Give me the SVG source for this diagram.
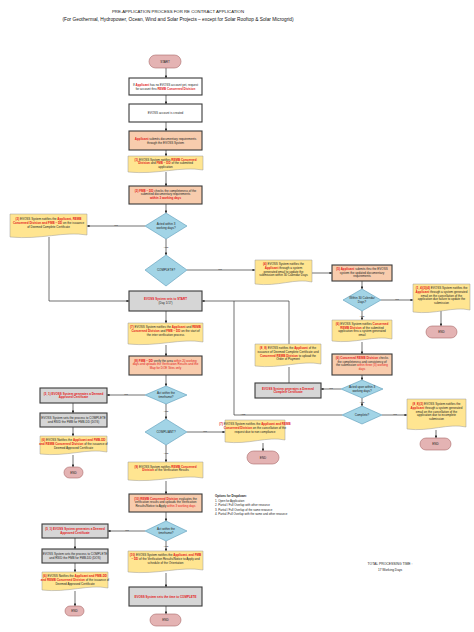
<svg xmlns="http://www.w3.org/2000/svg" width="474" height="632" viewBox="0 0 474 632">
<defs>
<style>
.peach{fill:#f8ccad;stroke:#3a3a3a;stroke-width:1.1}
.white{fill:#fff;stroke:#3a3a3a;stroke-width:1.1}
.grey{fill:#d6d6d6;stroke:#3a3a3a;stroke-width:1.1}
.doc{fill:#ffe591;stroke:#9a9a9a;stroke-width:0.5}
.dia{fill:#a2d4e6;stroke:#5b9bb9;stroke-width:0.6}
.term{fill:#e4b3b3;stroke:#a96a6a;stroke-width:0.6}
.t{font-family:"Liberation Sans",Arial,sans-serif;font-size:3px;fill:#222;text-anchor:middle}
.r{fill:#e4201b;font-weight:bold}
.lbl{font-family:"Liberation Sans",Arial,sans-serif;font-size:2.4px;fill:#333;text-anchor:middle}
.title{font-family:"Liberation Sans",Arial,sans-serif;fill:#111;text-anchor:middle}
.conn{stroke:#333;stroke-width:0.7;fill:none}
</style>
<marker id="ah" viewBox="0 0 6 6" refX="5.5" refY="3" markerWidth="4" markerHeight="4" orient="auto"><path d="M0,0 L6,3 L0,6 Z" fill="#333"/></marker>
</defs>
<rect width="474" height="632" fill="#fff"/>

<text class="title" x="178" y="13" font-size="4.3">PRE-APPLICATION PROCESS FOR RE CONTRACT APPLICATION</text>
<text class="title" x="178" y="21" font-size="4.8">(For Geothermal, Hydropower, Ocean, Wind and Solar Projects – except for Solar Rooftop &amp; Solar Microgrid)</text>

<g id="connectors">
<path class="conn" d="M166,68 V78" marker-end="url(#ah)"/>
<path class="conn" d="M166,95 V104" marker-end="url(#ah)"/>
<path class="conn" d="M166,122 V131" marker-end="url(#ah)"/>
<path class="conn" d="M166,150 V156" marker-end="url(#ah)"/>
<path class="conn" d="M166,172 V186" marker-end="url(#ah)"/>
<path class="conn" d="M166,204 V213" marker-end="url(#ah)"/>
<path class="conn" d="M145,226 H87" marker-end="url(#ah)"/>
<path class="conn" d="M166,239 V255" marker-end="url(#ah)"/>
<path class="conn" d="M187,270 H255" marker-end="url(#ah)"/>
<path class="conn" d="M312,273 H332" marker-end="url(#ah)"/>
<path class="conn" d="M362,281 V289" marker-end="url(#ah)"/>
<path class="conn" d="M381,300 H413" marker-end="url(#ah)"/>
<path class="conn" d="M441,311 V326" marker-end="url(#ah)"/>
<path class="conn" d="M362,311 V320" marker-end="url(#ah)"/>
<path class="conn" d="M362,342 V354" marker-end="url(#ah)"/>
<path class="conn" d="M362,375 V380" marker-end="url(#ah)"/>
<path class="conn" d="M341,389 H321" marker-end="url(#ah)"/>
<path class="conn" d="M362,398 V406" marker-end="url(#ah)"/>
<path class="conn" d="M382,415 H407" marker-end="url(#ah)"/>
<path class="conn" d="M436,430 V438" marker-end="url(#ah)"/>
<path class="conn" d="M342,415 H234 V301"/>
<path class="conn" d="M289,383 V367"/>
<path class="conn" d="M289,344 V301 H202" marker-end="url(#ah)"/>
<path class="conn" d="M49,237 V301 H129" marker-end="url(#ah)"/>
<path class="conn" d="M166,311 V323" marker-end="url(#ah)"/>
<path class="conn" d="M166,345 V356" marker-end="url(#ah)"/>
<path class="conn" d="M166,375 V386" marker-end="url(#ah)"/>
<path class="conn" d="M145,395 H107" marker-end="url(#ah)"/>
<path class="conn" d="M73,403 V413" marker-end="url(#ah)"/>
<path class="conn" d="M73,427 V436" marker-end="url(#ah)"/>
<path class="conn" d="M73,455 V467" marker-end="url(#ah)"/>
<path class="conn" d="M166,404 V419" marker-end="url(#ah)"/>
<path class="conn" d="M187,432 H225" marker-end="url(#ah)"/>
<path class="conn" d="M263,443 V451" marker-end="url(#ah)"/>
<path class="conn" d="M166,445 V462" marker-end="url(#ah)"/>
<path class="conn" d="M166,481 V494" marker-end="url(#ah)"/>
<path class="conn" d="M166,512 V521" marker-end="url(#ah)"/>
<path class="conn" d="M145,531 H108" marker-end="url(#ah)"/>
<path class="conn" d="M75,538 V549" marker-end="url(#ah)"/>
<path class="conn" d="M75,563 V572" marker-end="url(#ah)"/>
<path class="conn" d="M75,591 V606" marker-end="url(#ah)"/>
<path class="conn" d="M166,541 V551" marker-end="url(#ah)"/>
<path class="conn" d="M166,573 V587" marker-end="url(#ah)"/>
<path class="conn" d="M166,606 V614" marker-end="url(#ah)"/>
<text class="lbl" x="116" y="225.5">NO</text>
<text class="lbl" x="166" y="248">YES</text>
<text class="lbl" x="220" y="269.5">NO</text>
<text class="lbl" x="397" y="299.5">NO</text>
<text class="lbl" x="362" y="316.5">YES</text>
<text class="lbl" x="331" y="388.5">NO</text>
<text class="lbl" x="362" y="403">YES</text>
<text class="lbl" x="395" y="414.5">NO</text>
<text class="lbl" x="243" y="414.5">YES</text>
<text class="lbl" x="126" y="394.5">NO</text>
<text class="lbl" x="166" y="412">YES</text>
<text class="lbl" x="205" y="431.5">NO</text>
<text class="lbl" x="166" y="454">YES</text>
<text class="lbl" x="127" y="530.5">NO</text>
<text class="lbl" x="166" y="547">YES</text>
</g>

<g id="start"><rect class="term" x="149" y="55" width="32" height="13" rx="6.5"/><text class="t" x="165" y="62.6">START</text></g>

<g id="n1"><rect class="white" x="129" y="78" width="73" height="17"/>
<text class="t" x="165.5" y="85.5"><tspan>If </tspan><tspan class="r">Applicant</tspan><tspan> has no EVOSS account yet, request</tspan></text>
<text class="t" x="165.5" y="89.5"><tspan>for account thru </tspan><tspan class="r">REMB Concerned Division</tspan></text></g>

<g id="n2"><rect class="white" x="129" y="104" width="73" height="18"/><text class="t" x="165.5" y="114">EVOSS account is created</text></g>

<g id="n3"><rect class="peach" x="129" y="131" width="73" height="19"/>
<text class="t" x="165.5" y="139.5"><tspan class="r">Applicant</tspan><tspan> submits documentary requirements</tspan></text>
<text class="t" x="165.5" y="143.5">through the EVOSS System</text></g>

<g id="n4"><path class="doc" d="M128,156 H203 V170 C180.5,166 158,175 128,172 Z"/>
<text class="t" x="165.5" y="160.5"><tspan class="r">(1)</tspan><tspan> EVOSS System notifies </tspan><tspan class="r">REMB Concerned</tspan></text>
<text class="t" x="165.5" y="164.3"><tspan class="r">Division</tspan><tspan> and </tspan><tspan class="r">FMB – DD</tspan><tspan> of the submitted</tspan></text>
<text class="t" x="165.5" y="168.1">application</text></g>

<g id="n5"><rect class="peach" x="129" y="186" width="73" height="18"/>
<text class="t" x="165.5" y="191.5"><tspan class="r">(2) FMB – DD</tspan><tspan> checks the completeness of the</tspan></text>
<text class="t" x="165.5" y="195.3">submitted documentary requirements</text>
<text class="t" x="165.5" y="199.1"><tspan class="r" font-weight="normal">within 3 working days</tspan></text></g>

<g id="d1"><path class="dia" d="M166,213 L187,226 L166,239 L145,226 Z"/>
<text class="t" x="166" y="225">Acted within 3</text><text class="t" x="166" y="229">working days?</text></g>

<g id="n6"><path class="doc" d="M10,214 H87 V235 C64,231 41,240 10,237 Z"/>
<text class="t" x="48.5" y="219.5"><tspan class="r">(3)</tspan><tspan> EVOSS System notifies the </tspan><tspan class="r">Applicant, REMB</tspan></text>
<text class="t" x="48.5" y="223.5"><tspan class="r">Concerned Division and FMB – DD</tspan><tspan> on the issuance</tspan></text>
<text class="t" x="48.5" y="227.5">of Deemed Complete Certificate</text></g>

<g id="d2"><path class="dia" d="M166,255 L187,270 L166,286 L145,270 Z"/><text class="t" x="166" y="271.2">COMPLETE?</text></g>

<g id="n7"><path class="doc" d="M255,260 H312 V282 C295,278 278,287 255,284 Z"/>
<text class="t" x="283.5" y="265"><tspan class="r">(4)</tspan><tspan> EVOSS System notifies the</tspan></text>
<text class="t" x="283.5" y="268.8"><tspan class="r">Applicant</tspan><tspan> through a system</tspan></text>
<text class="t" x="283.5" y="272.6">generated email  to update the</text>
<text class="t" x="283.5" y="276.4">submission within 30 Calendar Days</text></g>

<g id="n8"><rect class="peach" x="332" y="265" width="60" height="16"/>
<text class="t" x="362" y="269.8"><tspan class="r">(5) Applicant</tspan><tspan> submits thru the  EVOSS</tspan></text>
<text class="t" x="362" y="273.6">system the updated documentary</text>
<text class="t" x="362" y="277.4">requirements</text></g>

<g id="d3"><path class="dia" d="M362,289 L381,300 L362,311 L343,300 Z"/>
<text class="t" x="362" y="299">Within 30 Calendar</text><text class="t" x="362" y="303">Days?</text></g>

<g id="n9"><path class="doc" d="M413,284 H470 V310 C453,306 436,315 413,312 Z"/>
<text class="t" x="441.5" y="289"><tspan class="r">(1_4)(3)(4)</tspan><tspan> EVOSS System notifies the</tspan></text>
<text class="t" x="441.5" y="292.8"><tspan class="r">Applicant</tspan><tspan> through a system generated</tspan></text>
<text class="t" x="441.5" y="296.6">email on the cancellation of the</text>
<text class="t" x="441.5" y="300.4">application due failure to update the</text>
<text class="t" x="441.5" y="304.2">submission</text></g>

<g id="end1"><rect class="term" x="426" y="326" width="31" height="12" rx="6"/><text class="t" x="441.5" y="333">END</text></g>

<g id="n10"><path class="doc" d="M332,320 H392 V339 C374,335 356,344 332,341 Z"/>
<text class="t" x="362" y="324.8"><tspan class="r">(6)</tspan><tspan> EVOSS System notifies </tspan><tspan class="r">Concerned</tspan></text>
<text class="t" x="362" y="328.6"><tspan class="r">REMB Division</tspan><tspan> of the submitted</tspan></text>
<text class="t" x="362" y="332.4">application thru a system generated</text>
<text class="t" x="362" y="336.2">email</text></g>

<g id="n11"><rect class="peach" x="332" y="354" width="60" height="21"/>
<text class="t" x="362" y="358.8"><tspan class="r">(6) Concerned REMB Division</tspan><tspan> checks</tspan></text>
<text class="t" x="362" y="362.6">the completeness and consistency of</text>
<text class="t" x="362" y="366.4"><tspan>the submission </tspan><tspan fill="#e4201b">within three (3) working</tspan></text>
<text class="t" x="362" y="370.2"><tspan fill="#e4201b">days</tspan></text></g>

<g id="d4"><path class="dia" d="M362,380 L383,389 L362,398 L341,389 Z"/>
<text class="t" x="362" y="388.3">Acted upon within 3</text><text class="t" x="362" y="392">working days?</text></g>

<g id="d5"><path class="dia" d="M362,406 L382,415 L362,424 L342,415 Z"/><text class="t" x="362" y="416.1">Complete?</text></g>

<g id="n12"><path class="doc" d="M407,399 H466 V427 C448,423 430,432 407,429 Z"/>
<text class="t" x="436.5" y="405"><tspan class="r">(8_8)(3)</tspan><tspan> EVOSS System notifies the</tspan></text>
<text class="t" x="436.5" y="408.8"><tspan class="r">Applicant</tspan><tspan> through a system generated</tspan></text>
<text class="t" x="436.5" y="412.6">email on the cancellation of the</text>
<text class="t" x="436.5" y="416.4">application due to incomplete</text>
<text class="t" x="436.5" y="420.2">submission</text></g>

<g id="end2"><rect class="term" x="420" y="438" width="31" height="12" rx="6"/><text class="t" x="435.5" y="445">END</text></g>

<g id="n13"><path class="doc" d="M255,344 H321 V364 C301,360 281,369 255,366 Z"/>
<text class="t" x="288" y="349"><tspan class="r">(8_8)</tspan><tspan> EVOSS notifies the </tspan><tspan class="r">Applicant</tspan><tspan> of the</tspan></text>
<text class="t" x="288" y="352.8"><tspan>issuance of Deemed Complete Certificate and</tspan></text>
<text class="t" x="288" y="356.6"><tspan class="r">Concerned REMB Division</tspan><tspan> to upload the</tspan></text>
<text class="t" x="288" y="360.4">Order of Payment</text></g>

<g id="n14"><rect class="grey" x="255" y="383" width="66" height="15"/>
<text class="t" x="288" y="389.5"><tspan class="r">EVOSS System generates a Deemed</tspan></text>
<text class="t" x="288" y="393.3"><tspan class="r">Complete Certificate</tspan></text></g>

<g id="n15"><rect class="grey" x="129" y="291" width="73" height="20"/>
<text class="t" x="165.5" y="300"><tspan class="r">EVOSS System sets to START</tspan></text>
<text class="t" x="165.5" y="304">(Day 1/17)</text></g>

<g id="n16"><path class="doc" d="M128,323 H203 V342 C180.5,338 158,347 128,344 Z"/>
<text class="t" x="165.5" y="328"><tspan class="r">(7)</tspan><tspan> EVOSS System notifies the </tspan><tspan class="r">Applicant</tspan><tspan> and </tspan><tspan class="r">REMB</tspan></text>
<text class="t" x="165.5" y="331.8"><tspan class="r">Concerned Division</tspan><tspan> and </tspan><tspan class="r">FMB – DD</tspan><tspan> on the start of</tspan></text>
<text class="t" x="165.5" y="335.6">the inter verification process</text></g>

<g id="n17"><rect class="peach" x="129" y="356" width="73" height="19"/>
<text class="t" x="165.5" y="361.5"><tspan class="r">(8) FMB – DD</tspan><tspan> verify the area </tspan><tspan fill="#e4201b">within 20 working</tspan></text>
<text class="t" x="165.5" y="365.3"><tspan fill="#e4201b">days and uploads the Verification Results and the</tspan></text>
<text class="t" x="165.5" y="369.1"><tspan fill="#e4201b">Map for DOE Sites only</tspan></text></g>

<g id="d6"><path class="dia" d="M166,386 L187,395 L166,404 L145,395 Z"/>
<text class="t" x="166" y="394">Act within the</text><text class="t" x="166" y="397.8">timeframe?</text></g>

<g id="n18"><rect class="grey" x="40" y="388" width="67" height="15"/>
<text class="t" x="73.5" y="394.5"><tspan class="r">(5_1) EVOSS System generates a Deemed</tspan></text>
<text class="t" x="73.5" y="398.3"><tspan class="r">Approved Certificate</tspan></text></g>

<g id="n19"><rect class="grey" x="40" y="413" width="67" height="14"/>
<text class="t" x="73.5" y="419.3">EVOSS System sets the process to COMPLETE</text>
<text class="t" x="73.5" y="423.1">and RSID the FMB for FMB-DD (DOS)</text></g>

<g id="n20"><path class="doc" d="M40,436 H107 V452 C87,448 67,457 40,454 Z"/>
<text class="t" x="73.5" y="441"><tspan class="r">(6)</tspan><tspan> EVOSS Notifies the </tspan><tspan class="r">Applicant and FMB-DD</tspan></text>
<text class="t" x="73.5" y="444.8"><tspan class="r">and REMB Concerned Division</tspan><tspan> of the issuance of</tspan></text>
<text class="t" x="73.5" y="448.6">Deemed Approved Certificate</text></g>

<g id="end4"><rect class="term" x="64" y="467" width="19" height="11" rx="5.5"/><text class="t" x="73.5" y="473.6">END</text></g>

<g id="d7"><path class="dia" d="M166,419 L187,432 L166,445 L145,432 Z"/><text class="t" x="166" y="433.1">COMPLIANT?</text></g>

<g id="n21"><path class="doc" d="M225,420 H285 V440 C267,436 249,445 225,442 Z"/>
<text class="t" x="255" y="425"><tspan class="r">(7)</tspan><tspan> EVOSS System notifies the </tspan><tspan class="r">Applicant and REMB</tspan></text>
<text class="t" x="255" y="428.8"><tspan class="r">Concerned Division</tspan><tspan>  on the cancellation of the</tspan></text>
<text class="t" x="255" y="432.6">request due to non compliance</text></g>

<g id="end3"><rect class="term" x="247" y="451" width="32" height="13" rx="6.5"/><text class="t" x="263" y="458.6">END</text></g>

<g id="n22"><path class="doc" d="M128,462 H203 V478 C180.5,474 158,483 128,480 Z"/>
<text class="t" x="165.5" y="467.5"><tspan class="r">(9)</tspan><tspan> EVOSS System notifies </tspan><tspan class="r">REMB Concerned</tspan></text>
<text class="t" x="165.5" y="471.3"><tspan class="r">Division</tspan><tspan> of the Verification Results</tspan></text></g>

<g id="n23"><rect class="peach" x="129" y="494" width="73" height="18"/>
<text class="t" x="165.5" y="499.5"><tspan class="r">(10) REMB Concerned Division</tspan><tspan> evaluates the</tspan></text>
<text class="t" x="165.5" y="503.3">verification results and uploads the Verification</text>
<text class="t" x="165.5" y="507.1"><tspan>Results/Notice to Apply </tspan><tspan fill="#e4201b">within 3 working days</tspan></text></g>

<g id="d8"><path class="dia" d="M166,521 L187,531 L166,541 L145,531 Z"/>
<text class="t" x="166" y="530">Act within the</text><text class="t" x="166" y="533.8">timeframe?</text></g>

<g id="n24"><rect class="grey" x="42" y="524" width="66" height="14"/>
<text class="t" x="75" y="530"><tspan class="r">(5_1) EVOSS System generates a Deemed</tspan></text>
<text class="t" x="75" y="533.8"><tspan class="r">Approved Certificate</tspan></text></g>

<g id="n25"><rect class="grey" x="42" y="549" width="66" height="14"/>
<text class="t" x="75" y="555.3">EVOSS System sets the process to COMPLETE</text>
<text class="t" x="75" y="559.1">and RSID the FMB for FMB-DD (DOS)</text></g>

<g id="n26"><path class="doc" d="M42,572 H108 V588 C88,584 68,593 42,590 Z"/>
<text class="t" x="75" y="577"><tspan class="r">(6)</tspan><tspan> EVOSS Notifies the </tspan><tspan class="r">Applicant and FMB-DD</tspan></text>
<text class="t" x="75" y="580.8"><tspan class="r">and REMB Concerned Division</tspan><tspan> of the issuance of</tspan></text>
<text class="t" x="75" y="584.6">Deemed Approved Certificate</text></g>

<g id="end5"><rect class="term" x="65" y="606" width="19" height="10" rx="5"/><text class="t" x="74.5" y="612.1">END</text></g>

<g id="n27"><path class="doc" d="M128,551 H203 V570 C180.5,566 158,575 128,572 Z"/>
<text class="t" x="165.5" y="556"><tspan class="r">(10)</tspan><tspan> EVOSS System notifies the </tspan><tspan class="r">Applicant, and FMB</tspan></text>
<text class="t" x="165.5" y="559.8"><tspan class="r">– DD</tspan><tspan> of the Verification Results/Notice to Apply and</tspan></text>
<text class="t" x="165.5" y="563.6">schedule of the Orientation</text></g>

<g id="n28"><rect class="grey" x="129" y="587" width="73" height="19"/>
<text class="t" x="165.5" y="597.5"><tspan class="r">EVOSS System sets the time to COMPLETE</tspan></text></g>

<g id="end6"><rect class="term" x="150" y="614" width="31" height="12" rx="6"/><text class="t" x="165.5" y="621">END</text></g>

<g id="options" font-family="'Liberation Sans',Arial,sans-serif" font-size="2.9" fill="#222">
<text x="215" y="497" font-weight="bold">Options for Dropdown:</text>
<text x="215" y="501.5">1. Open for Application</text>
<text x="215" y="506">2. Partial / Full Overlap with other resource</text>
<text x="215" y="510.5">3. Partial / Full Overlap of the same resource</text>
<text x="215" y="515">4. Partial /Full Overlap with the same and other resource</text>
</g>

<g id="total" font-family="'Liberation Sans',Arial,sans-serif" fill="#222" text-anchor="middle">
<text x="390" y="564.5" font-size="3.4">TOTAL PROCESSING TIME :</text>
<text x="390" y="570.5" font-size="3.2">17 Working Days</text>
</g>
</svg>
